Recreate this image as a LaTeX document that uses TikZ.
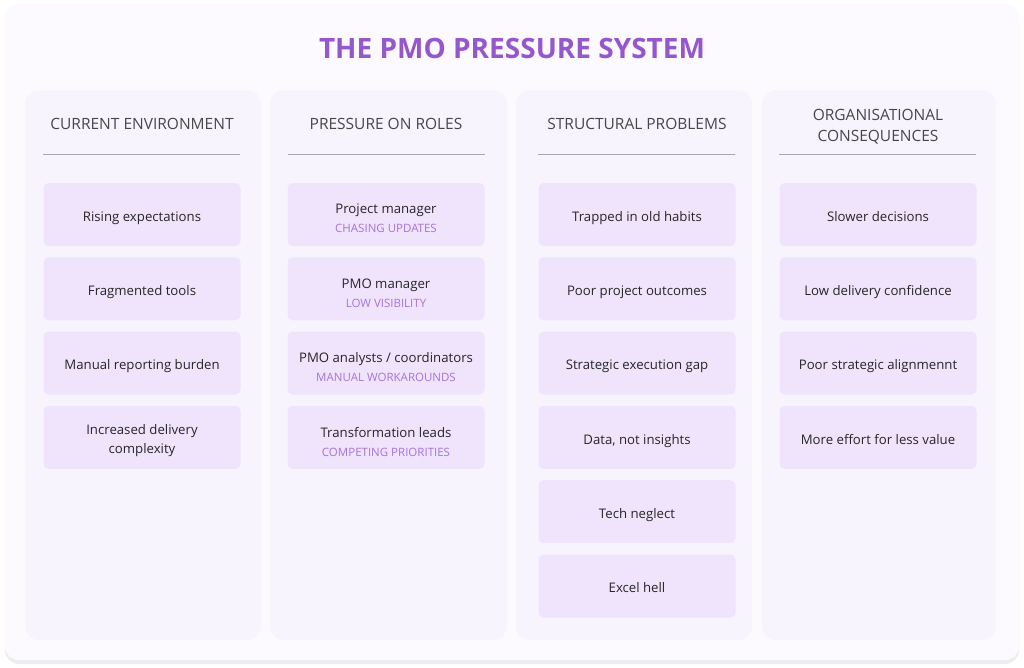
\documentclass[tikz,border=0pt]{standalone}
\usepackage{fontspec}
\setmainfont{Open Sans}
\usetikzlibrary{positioning}

\definecolor{cardbg}{HTML}{FCFAFF}
\definecolor{colbg}{HTML}{F8F4FE}
\definecolor{boxfill}{HTML}{F0E4FC}
\definecolor{titlepurple}{HTML}{9558CC}
\definecolor{tagpurple}{HTML}{A673DB}
\definecolor{headgray}{HTML}{474747}
\definecolor{rulegray}{HTML}{A9A5AE}

\newcommand{\roletag}[1]{{\color{tagpurple}\fontsize{11.5}{13}\selectfont #1}}
% box plus its text, the text sitting a little low as in the slide
\newcommand{\pmobox}[5][-3pt]{%
  \node[itembox] (#2) at (#3,#4) {};
  \node[itemtext, yshift=#1] (#2text) at (#2.center) {#5};}

\tikzset{
  column/.style={fill=colbg, rounded corners=14pt},
  colhead/.style={text=headgray, align=center, font=\fontsize{15.5}{21}\selectfont},
  headrule/.style={rulegray, line width=1pt},
  itembox/.style={fill=boxfill, rounded corners=5pt, minimum width=197pt,
    minimum height=63pt, inner sep=0pt},
  itemtext/.style={align=center, text=black!85, font=\fontsize{13.2}{19}\selectfont,
    execute at begin node=\strut, execute at end node=\strut}
}

\begin{document}
\begin{tikzpicture}[x=1pt,y=-1pt]
\useasboundingbox (0,0) rectangle (1024,667);
\fill[white] (0,0) rectangle (1024,667);

% card and shadow
\fill[black!7, rounded corners=14pt] (5,8) rectangle (1019,664);
\fill[cardbg, rounded corners=14pt] (5,4) rectangle (1019,660);

\node[text=titlepurple, font=\fontsize{28}{32}\selectfont\bfseries] (title) at (512,48) {THE PMO PRESSURE SYSTEM};

% columns
\fill[column] (25,90) rectangle (261,640);
\fill[column] (270,90) rectangle (507,640);
\fill[column] (516,90) rectangle (752,640);
\fill[column] (762,90) rectangle (996,640);

% headers
\node[colhead] (envhead) at (142,124) {CURRENT ENVIRONMENT};
\node[colhead] (rolehead) at (386,124) {PRESSURE ON ROLES};
\node[colhead] (probhead) at (637,124) {STRUCTURAL PROBLEMS};
\node[colhead] (conshead) at (878,126.5) {ORGANISATIONAL\\CONSEQUENCES};
\draw[headrule] (43,154) -- (240,154);
\draw[headrule] (288,154) -- (485,154);
\draw[headrule] (538,154) -- (735,154);
\draw[headrule] (779,154) -- (976,154);

% current environment
\foreach \txt [count=\i] in {Rising expectations, Fragmented tools,
    Manual reporting burden}
  {\pmobox{env\i}{142}{{214.5+74.3*(\i-1)}}{\txt}}
\pmobox[-4.5pt]{env4}{142}{437.4}{Increased delivery\\complexity}

% pressure on roles
\pmobox[-7pt]{role1}{386}{214.5}{Project manager\\[0pt]\roletag{CHASING UPDATES}}
\pmobox[-7pt]{role2}{386}{288.8}{PMO manager\\[0pt]\roletag{LOW VISIBILITY}}
\pmobox[-7pt]{role3}{386}{363.1}{PMO analysts / coordinators\\[0pt]\roletag{MANUAL WORKAROUNDS}}
\pmobox[-7pt]{role4}{386}{437.4}{Transformation leads\\[0pt]\roletag{COMPETING PRIORITIES}}

% structural problems
\foreach \txt [count=\i] in {Trapped in old habits, Poor project outcomes,
    Strategic execution gap, {Data, not insights}, Tech neglect, Excel hell}
  {\pmobox{prob\i}{637}{{214.5+74.3*(\i-1)}}{\txt}}

% organisational consequences
\foreach \txt [count=\i] in {Slower decisions, Low delivery confidence,
    Poor strategic alignmennt, More effort for less value}
  {\pmobox{cons\i}{878}{{214.5+74.3*(\i-1)}}{\txt}}
\end{tikzpicture}
\end{document}
